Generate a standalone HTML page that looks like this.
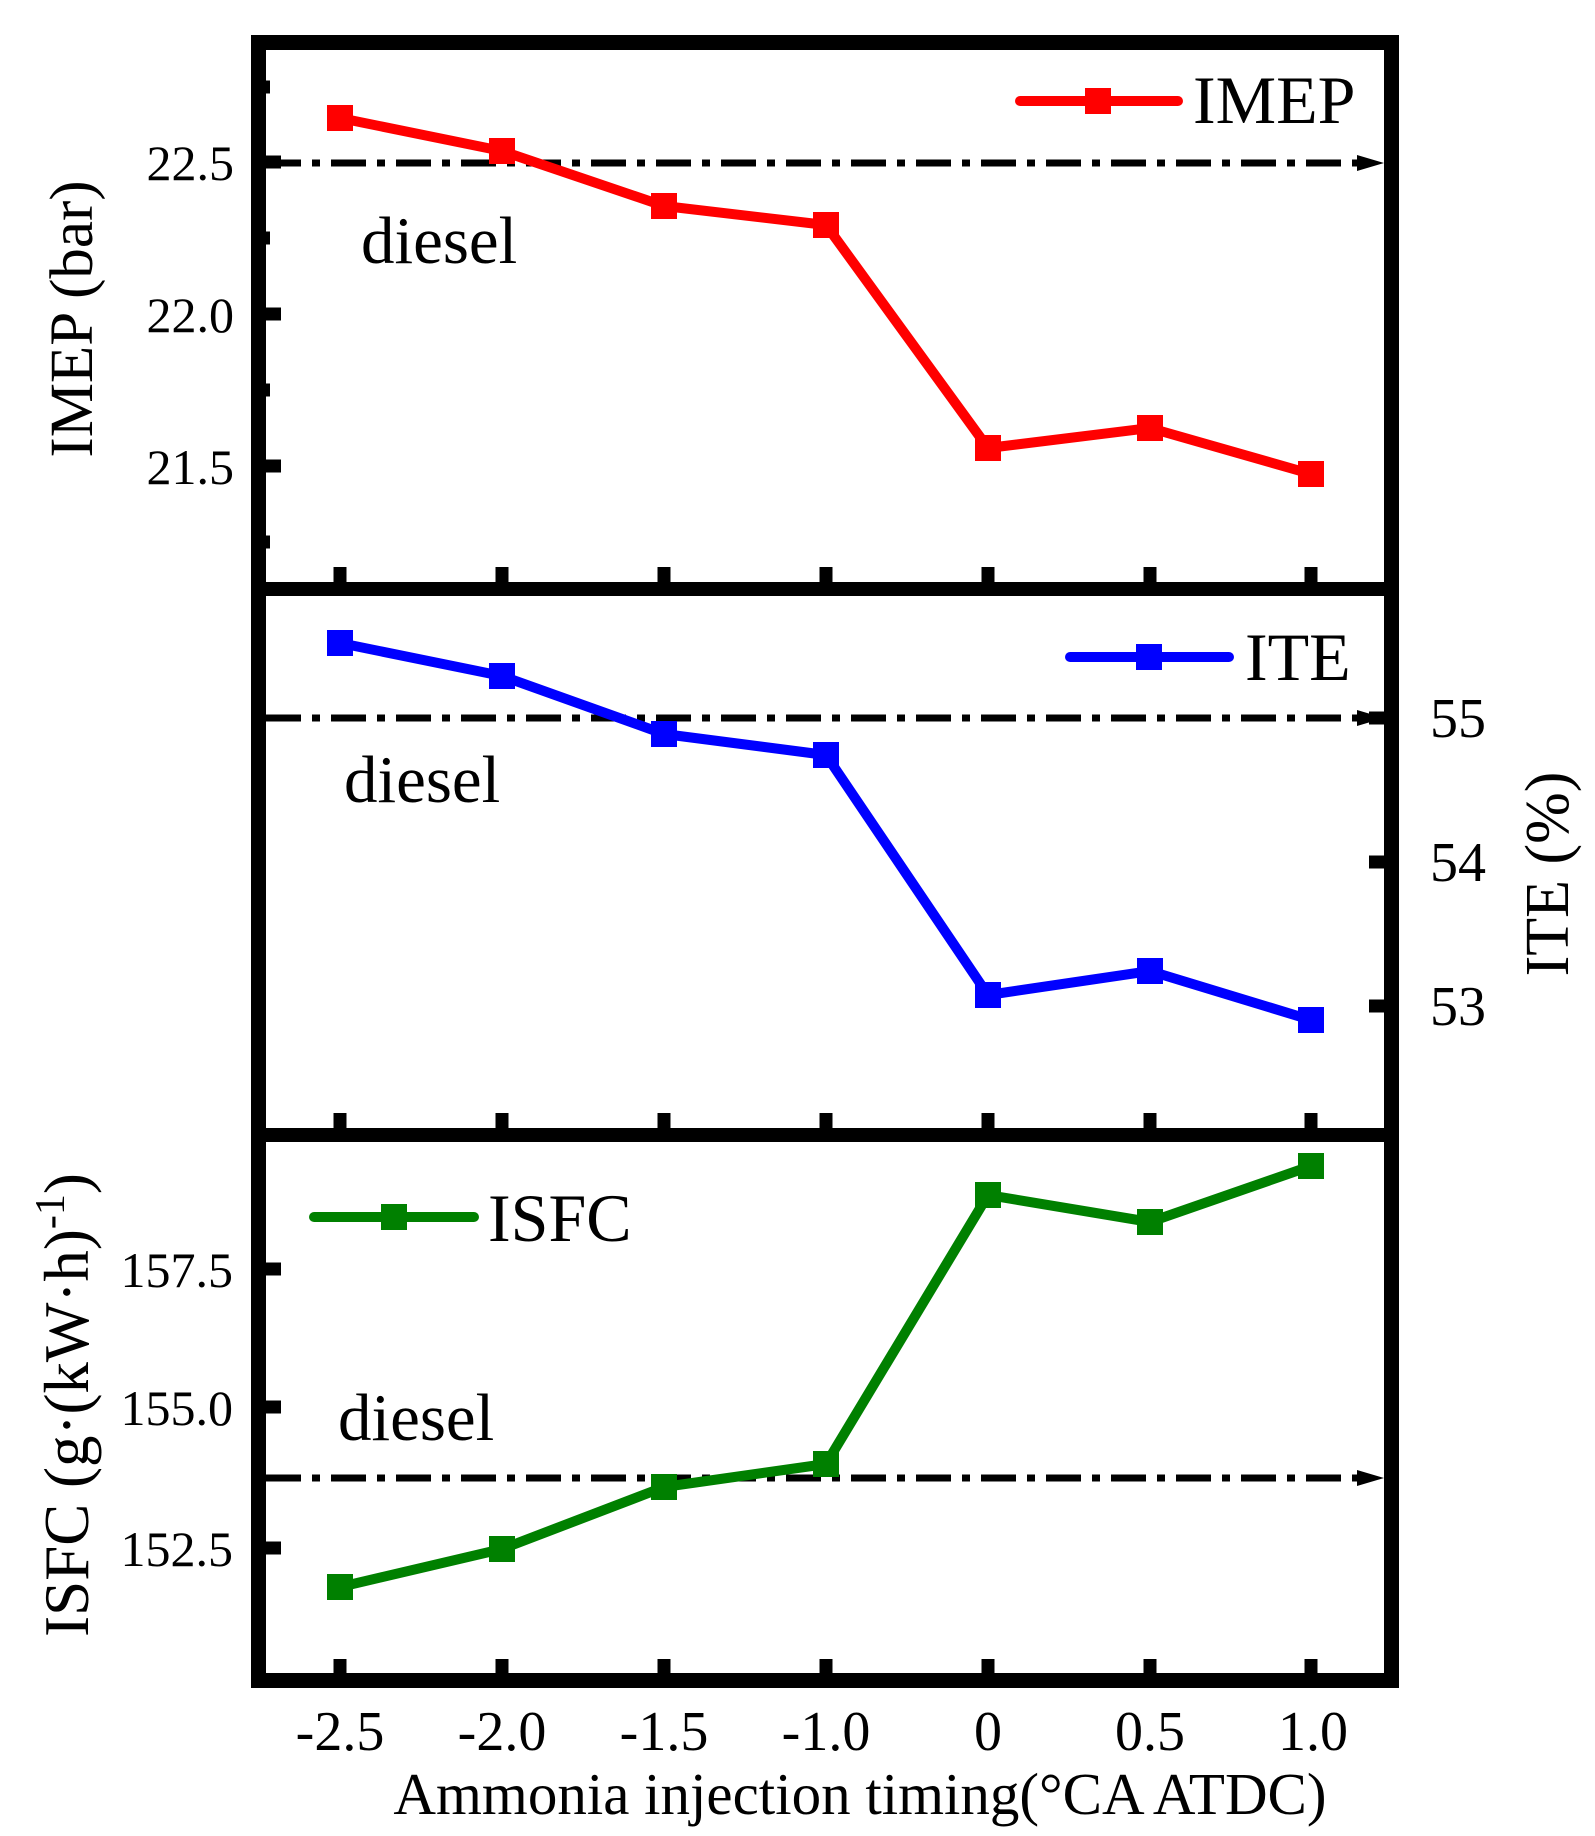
<!DOCTYPE html>
<html><head><meta charset="utf-8"><style>
html,body{margin:0;padding:0;background:#fff}
svg{display:block}
text{font-family:"Liberation Serif",serif;fill:#000}
</style></head><body>
<svg width="1595" height="1836" viewBox="0 0 1595 1836" xmlns="http://www.w3.org/2000/svg">
<rect x="258.5" y="42.5" width="1133" height="1638" fill="none" stroke="#000" stroke-width="15"/>
<line x1="251" y1="589" x2="1399" y2="589" stroke="#000" stroke-width="14"/>
<line x1="251" y1="1135" x2="1399" y2="1135" stroke="#000" stroke-width="14"/>
<g stroke="#000" stroke-width="13">
<line x1="340" y1="567" x2="340" y2="582"/><line x1="502" y1="567" x2="502" y2="582"/><line x1="664" y1="567" x2="664" y2="582"/><line x1="826" y1="567" x2="826" y2="582"/><line x1="988" y1="567" x2="988" y2="582"/><line x1="1150" y1="567" x2="1150" y2="582"/><line x1="1311" y1="567" x2="1311" y2="582"/>
<line x1="340" y1="1113" x2="340" y2="1128"/><line x1="502" y1="1113" x2="502" y2="1128"/><line x1="664" y1="1113" x2="664" y2="1128"/><line x1="826" y1="1113" x2="826" y2="1128"/><line x1="988" y1="1113" x2="988" y2="1128"/><line x1="1150" y1="1113" x2="1150" y2="1128"/><line x1="1311" y1="1113" x2="1311" y2="1128"/>
<line x1="340" y1="1659" x2="340" y2="1674"/><line x1="502" y1="1659" x2="502" y2="1674"/><line x1="664" y1="1659" x2="664" y2="1674"/><line x1="826" y1="1659" x2="826" y2="1674"/><line x1="988" y1="1659" x2="988" y2="1674"/><line x1="1150" y1="1659" x2="1150" y2="1674"/><line x1="1311" y1="1659" x2="1311" y2="1674"/>
<line x1="266" y1="162" x2="281" y2="162"/><line x1="266" y1="314" x2="281" y2="314"/><line x1="266" y1="466" x2="281" y2="466"/>
<line x1="266" y1="87" x2="270" y2="87"/><line x1="266" y1="238" x2="270" y2="238"/><line x1="266" y1="390" x2="270" y2="390"/><line x1="266" y1="542" x2="270" y2="542"/>
<line x1="1369" y1="718" x2="1384" y2="718"/><line x1="1369" y1="862" x2="1384" y2="862"/><line x1="1369" y1="1006" x2="1384" y2="1006"/>
<line x1="266" y1="1269" x2="281" y2="1269"/><line x1="266" y1="1407" x2="281" y2="1407"/><line x1="266" y1="1548" x2="281" y2="1548"/>
</g>
<g stroke="#000" stroke-width="7" stroke-dasharray="35 11 8 11" fill="none">
<line x1="266" y1="163" x2="1360" y2="163"/>
<line x1="266" y1="718" x2="1360" y2="718"/>
<line x1="266" y1="1478" x2="1360" y2="1478"/>
</g>
<g fill="#000">
<polygon points="1357,155 1384,163 1357,171"/>
<polygon points="1357,710 1384,718 1357,726"/>
<polygon points="1357,1470 1384,1478 1357,1486"/>
</g>
<polyline points="340,118 502,151 664,206 826,225 988,448 1150,428 1311,474" fill="none" stroke="#f00" stroke-width="10" stroke-linejoin="round" stroke-linecap="round"/>
<g fill="#f00">
<rect x="327" y="105" width="26" height="26"/><rect x="489" y="138" width="26" height="26"/><rect x="651" y="193" width="26" height="26"/><rect x="813" y="212" width="26" height="26"/><rect x="975" y="435" width="26" height="26"/><rect x="1137" y="415" width="26" height="26"/><rect x="1298" y="461" width="26" height="26"/>
<rect x="1085" y="88" width="26" height="26"/>
</g>
<line x1="1020" y1="101" x2="1178" y2="101" stroke="#f00" stroke-width="10" stroke-linecap="round"/>
<polyline points="340,643 502,676 664,734 826,755 988,995 1150,971 1311,1020" fill="none" stroke="#00f" stroke-width="10" stroke-linejoin="round" stroke-linecap="round"/>
<g fill="#00f">
<rect x="327" y="630" width="26" height="26"/><rect x="489" y="663" width="26" height="26"/><rect x="651" y="721" width="26" height="26"/><rect x="813" y="742" width="26" height="26"/><rect x="975" y="982" width="26" height="26"/><rect x="1137" y="958" width="26" height="26"/><rect x="1298" y="1007" width="26" height="26"/>
<rect x="1136" y="644" width="26" height="26"/>
</g>
<line x1="1070" y1="657" x2="1229" y2="657" stroke="#00f" stroke-width="10" stroke-linecap="round"/>
<polyline points="340,1587 502,1549 664,1487 826,1464 988,1195 1150,1222 1311,1166" fill="none" stroke="#008000" stroke-width="10" stroke-linejoin="round" stroke-linecap="round"/>
<g fill="#008000">
<rect x="327" y="1574" width="26" height="26"/><rect x="489" y="1536" width="26" height="26"/><rect x="651" y="1474" width="26" height="26"/><rect x="813" y="1451" width="26" height="26"/><rect x="975" y="1182" width="26" height="26"/><rect x="1137" y="1209" width="26" height="26"/><rect x="1298" y="1153" width="26" height="26"/>
<rect x="381" y="1204" width="26" height="26"/>
</g>
<line x1="314" y1="1217" x2="474" y2="1217" stroke="#008000" stroke-width="10" stroke-linecap="round"/>
<text x="1193" y="123" font-size="68">IMEP</text>
<text x="1245" y="680" font-size="68">ITE</text>
<text x="488" y="1241" font-size="68">ISFC</text>
<text x="361" y="263" font-size="67">diesel</text>
<text x="344" y="802" font-size="67">diesel</text>
<text x="338" y="1440" font-size="67">diesel</text>
<g font-size="50" text-anchor="end">
<text x="234" y="180">22.5</text><text x="234" y="332">22.0</text><text x="234" y="484">21.5</text>
<text x="233" y="1287">157.5</text><text x="233" y="1425">155.0</text><text x="233" y="1566">152.5</text>
</g>
<g font-size="56">
<text x="1430" y="737">55</text><text x="1430" y="881">54</text><text x="1430" y="1025">53</text>
</g>
<g font-size="56" text-anchor="middle">
<text x="340" y="1750">-2.5</text><text x="502" y="1750">-2.0</text><text x="664" y="1750">-1.5</text><text x="826" y="1750">-1.0</text><text x="988" y="1750">0</text><text x="1150" y="1750">0.5</text><text x="1313" y="1750">1.0</text>
</g>
<text x="860" y="1814" font-size="59" text-anchor="middle">Ammonia injection timing(°CA ATDC)</text>
<text transform="translate(92,319) rotate(-90)" font-size="61" text-anchor="middle">IMEP (bar)</text>
<text transform="translate(1568,874) rotate(-90)" font-size="62" text-anchor="middle">ITE (%)</text>
<text transform="translate(88,1405) rotate(-90)" font-size="63" text-anchor="middle">ISFC (g·(kW·h)<tspan dy="-24" font-size="42">-1</tspan><tspan dy="24">)</tspan></text>
</svg>
</body></html>
